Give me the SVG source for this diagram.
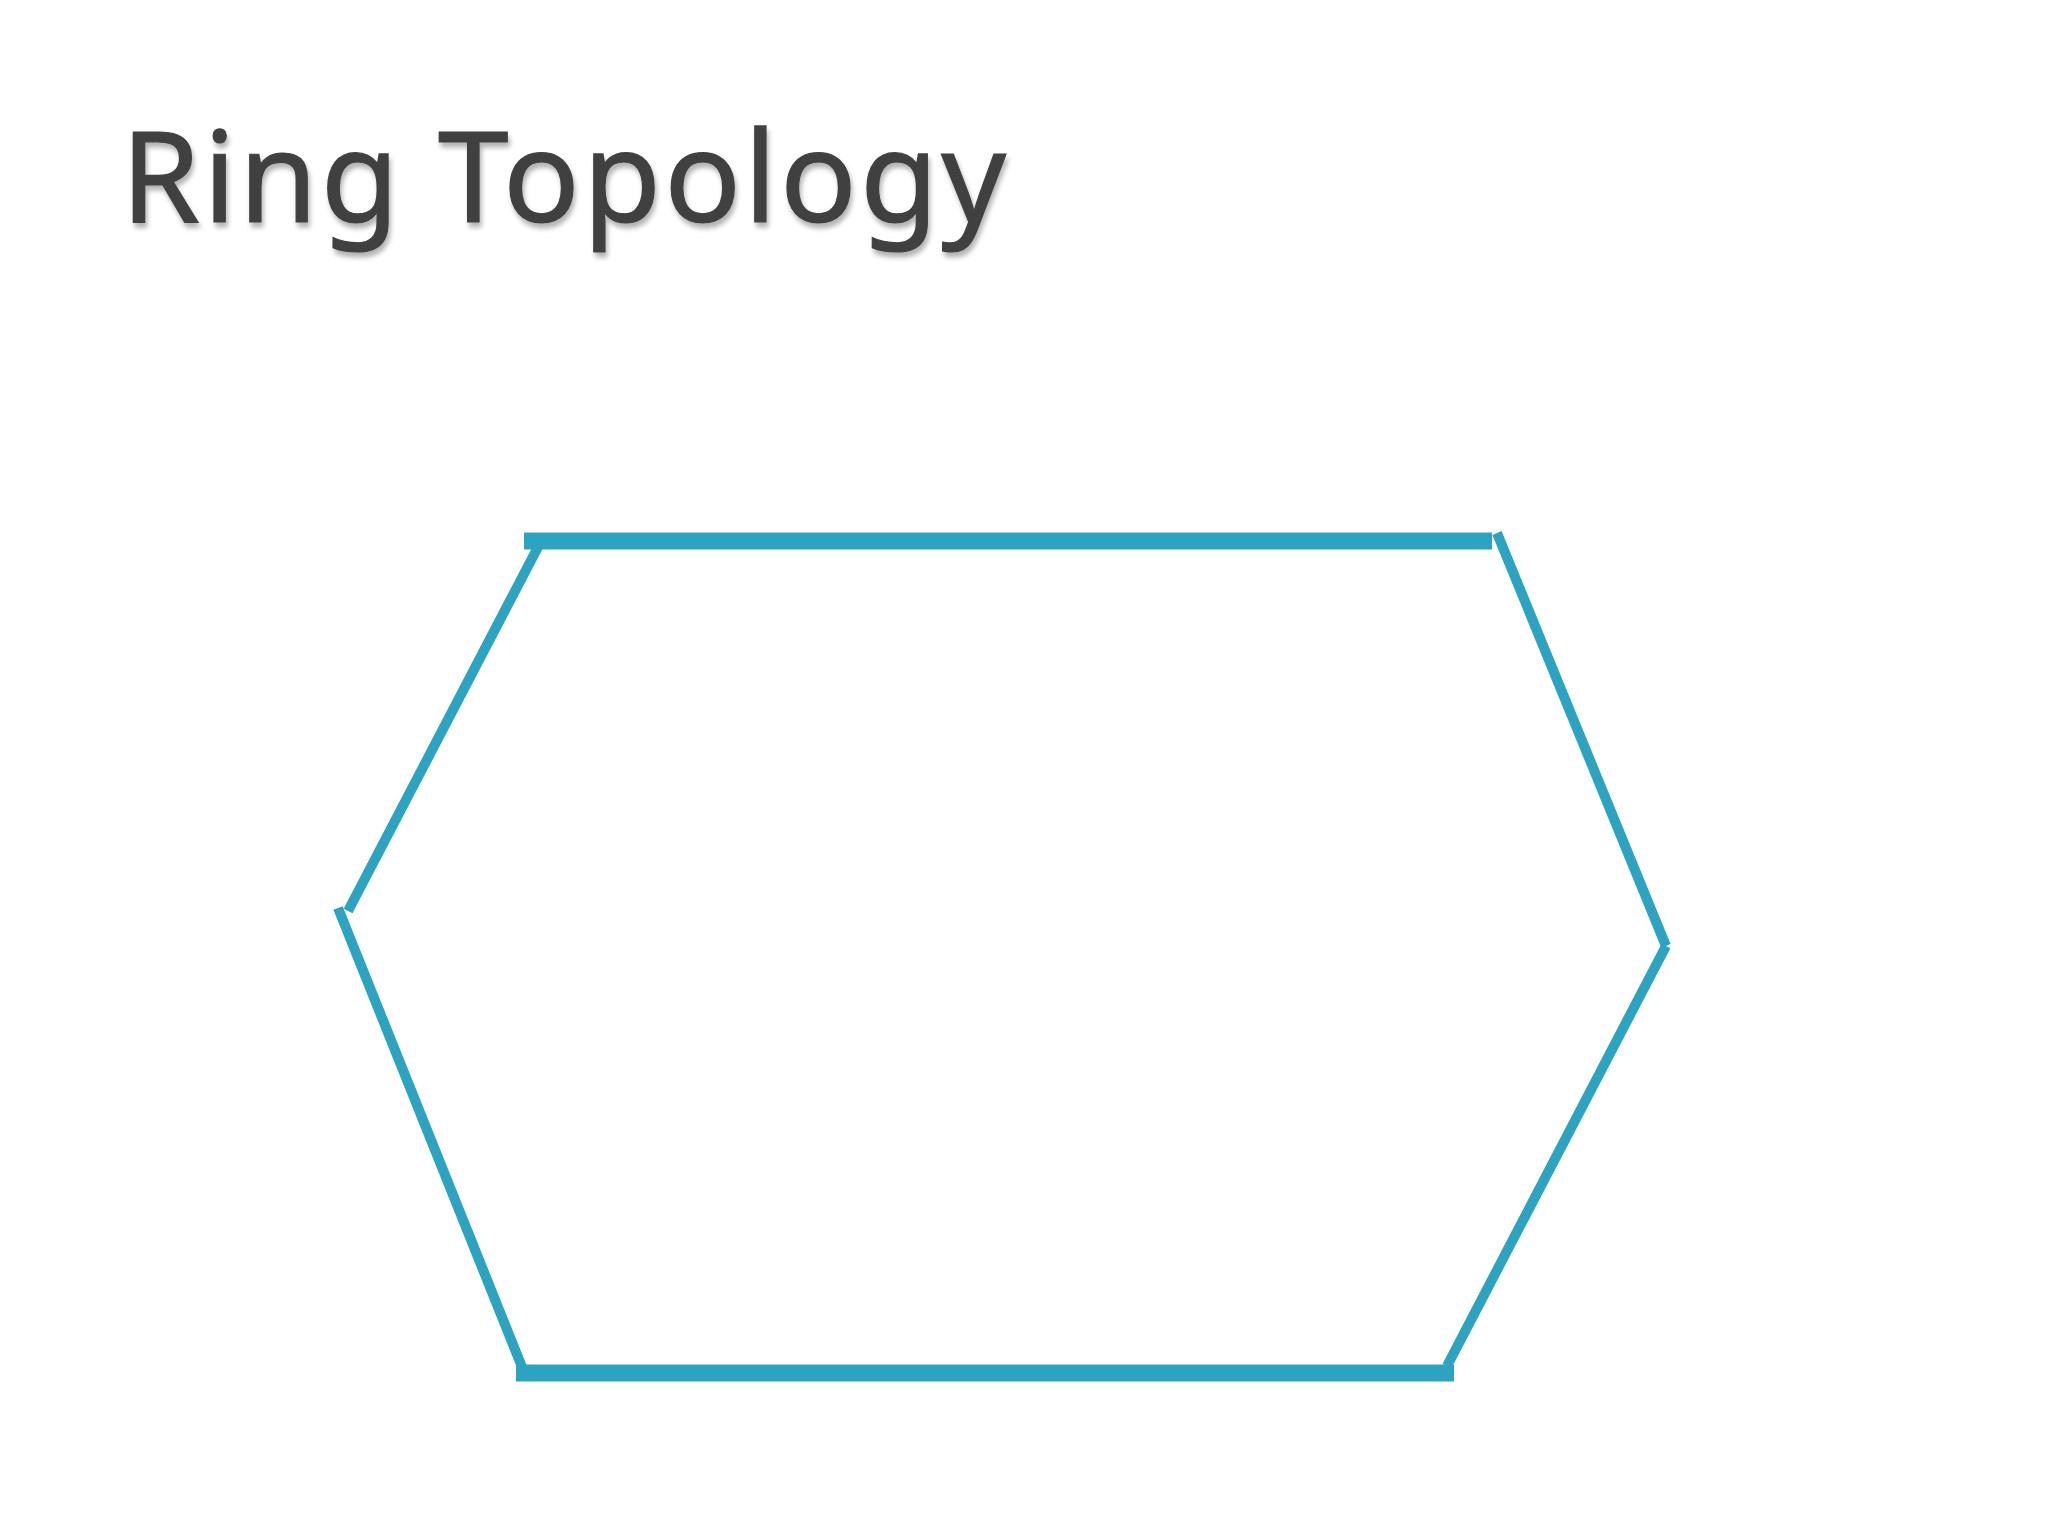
<svg xmlns="http://www.w3.org/2000/svg" width="2048" height="1536" viewBox="0 0 2048 1536">
  <defs>
    <filter id="shadow" x="-5%" y="-20%" width="110%" height="150%">
      <feGaussianBlur in="SourceAlpha" stdDeviation="2.5"/>
      <feOffset dx="2" dy="5" result="b"/>
      <feComponentTransfer><feFuncA type="linear" slope="0.3"/></feComponentTransfer>
      <feMerge><feMergeNode/><feMergeNode in="SourceGraphic"/></feMerge>
    </filter>
  </defs>
  <style>
    .title { font-family: "Noto Sans", "Liberation Sans", sans-serif; font-size: 127px; fill: #404040; stroke: #404040; stroke-width: 1.2px; }
    .ring { stroke: #2EA3BF; fill: none; stroke-linecap: butt; }
    .thick { stroke-width: 17; }
    .thin { stroke-width: 10; }
  </style>
  <rect x="0" y="0" width="2048" height="1536" fill="#ffffff"/>
  <g id="title" filter="url(#shadow)">
    <text class="title" x="121" y="222" textLength="885" lengthAdjust="spacing">Ring Topology</text>
  </g>
  <g id="connectors">
    <line class="ring thick" x1="524" y1="541" x2="1492" y2="541"/>
    <line class="ring thin" x1="1497" y1="533" x2="1666" y2="946"/>
    <line class="ring thin" x1="1666" y1="946" x2="1447" y2="1366"/>
    <line class="ring thick" x1="516" y1="1373" x2="1454" y2="1373"/>
    <line class="ring thin" x1="522" y1="1367" x2="338" y2="908"/>
    <line class="ring thin" x1="348" y1="911" x2="538" y2="547"/>
  </g>
</svg>
